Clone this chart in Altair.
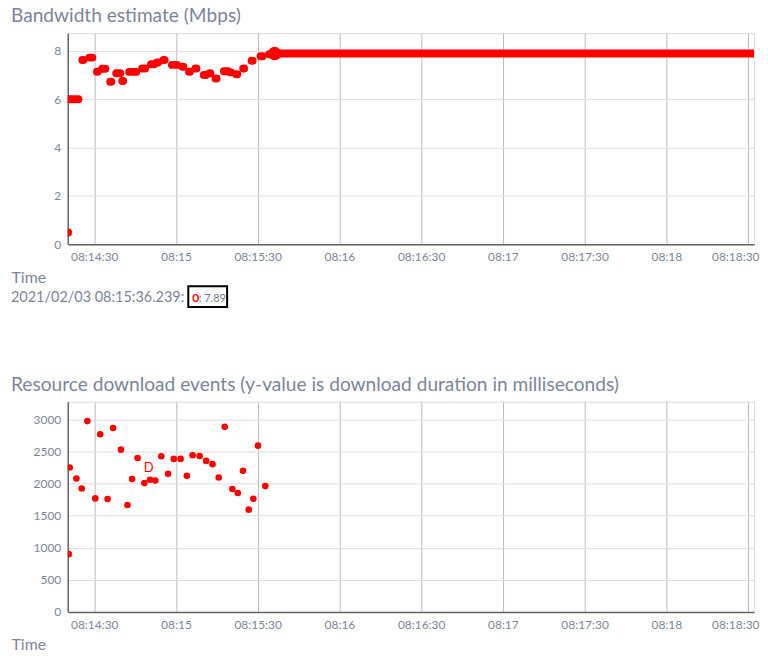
import altair as alt
import pandas as pd

FONT = "Lato"
GRAY = "#7b8699"
RED = "#ff0000"

# ---------------- data ----------------
bw_run_start = [20.28, 20.28, 25.65, 28.21, 31.00, 32.96, 35.88, 38.08, 40.30, 42.83,
                47.58, 50.86, 53.06, 55.45, 58.54, 62.40, 64.80, 67.10, 70.23, 72.30,
                74.50, 77.61, 79.90, 82.10, 84.70, 87.77, 91.06, 94.20, 96.24]
bw_run_end = [20.40, 24.19, 26.02, 29.31, 31.30, 34.06, 36.25, 39.54, 40.60, 45.38,
              48.67, 51.96, 53.42, 55.80, 60.37, 62.70, 65.10, 67.50, 70.96, 72.60,
              74.90, 79.07, 80.20, 82.50, 85.00, 88.14, 91.79, 94.50, 272.19]
bw_run_value = [0.49, 6.00, 7.62, 7.72, 7.14, 7.26, 6.72, 7.07, 6.75, 7.13,
                7.27, 7.45, 7.52, 7.62, 7.42, 7.34, 7.14, 7.27, 7.00, 7.07,
                6.86, 7.16, 7.11, 7.03, 7.27, 7.59, 7.78, 7.86, 7.89]

hover_sec = [96.239]
hover_value = [7.89]
hover_label = ["2021/02/03 08:15:36.239:"]
series_names = ["0"]

dl_sec = [20.65, 21.0, 23.46, 25.4, 27.48, 30.4, 32.2, 34.9, 36.9, 39.8,
          42.2, 43.9, 45.9, 48.4, 50.5, 52.4, 54.6, 57.1, 59.2, 61.7,
          64.0, 66.1, 68.7, 71.1, 73.4, 75.7, 77.9, 80.7, 82.7, 84.6,
          86.7, 88.4, 90.1, 92.8]
dl_ms = [900, 2249, 2078, 1923, 2973, 1768, 2767, 1759, 2865, 2528,
         1666, 2069, 2399, 2007, 2058, 2047, 2426, 2151, 2384, 2384,
         2120, 2441, 2430, 2353, 2302, 2094, 2885, 1914, 1852, 2198,
         1593, 1763, 2590, 1960]

annot_sec = [50.0]
annot_ms = [2180]
annot_text = ["D"]

time_range_start = [20.28]
time_range_end = [272.19]
x_tick_sec = [30, 60, 90, 120, 150, 180, 210, 240, 270]
bw_ticks = [0, 2, 4, 6, 8]
dl_ticks = [0, 500, 1000, 1500, 2000, 2500, 3000]

BASE = pd.Timestamp("2021-02-03T08:14:00", tz="UTC")


def ts(sec):
    t = BASE + pd.Timedelta(milliseconds=int(round(sec * 1000)))
    return t.strftime("%Y-%m-%dT%H:%M:%S.") + f"{t.microsecond // 1000:03d}Z"


def epoch_ms(sec):
    return int(BASE.value // 10**6) + int(round(sec * 1000))


bw_df = pd.DataFrame({
    "start": [ts(s) for s in bw_run_start],
    "end": [ts(s) for s in bw_run_end],
    "value": bw_run_value,
})
hover_df = pd.DataFrame({"time": [ts(s) for s in hover_sec], "value": hover_value})
dl_df = pd.DataFrame({"time": [ts(s) for s in dl_sec], "ms": dl_ms})
annot_df = pd.DataFrame({"time": [ts(s) for s in annot_sec], "ms": annot_ms, "text": annot_text})
range_df = pd.DataFrame({"start": [ts(s) for s in time_range_start],
                         "end": [ts(s) for s in time_range_end]})

W = 689
H1 = 212
H2 = 211

label_expr = ("utcFormat(datum.value, '%S') == '00' ? utcFormat(datum.value, '%H:%M')"
              " : utcFormat(datum.value, '%H:%M:%S')")


def x_axis():
    return alt.Axis(
        title="Time", titleX=-57, titleY=38, titleAlign="left", titleAnchor="start",
        titleBaseline="alphabetic", titleFontSize=16, titleFontWeight="normal",
        titleColor=GRAY, titleFont=FONT,
        values=[epoch_ms(s) for s in x_tick_sec], labelExpr=label_expr,
        labelFlush=8, labelFlushOffset=11, labelPadding=7.5, ticks=False,
        domainColor="#666666", domainWidth=1.5, grid=True, gridColor="#bbbbbb",
        labelColor=GRAY, labelFontSize=12, labelFont=FONT,
    )


def y_axis(values):
    return alt.Axis(
        title=None, values=values, format="d", ticks=False, domainColor="#666666",
        domainWidth=1.5, grid=True, gridColor="#dddddd", labelColor=GRAY,
        labelFontSize=12, labelFont=FONT, labelPadding=7, labelOverlap=False,
    )


def make_title(text):
    return alt.TitleParams(
        text=text, anchor="start", frame="group", dx=-57, dy=20, offset=12,
        baseline="alphabetic", fontSize=19.2, fontWeight="normal", color=GRAY, font=FONT,
    )


def time_extent():
    # invisible span that fixes the time extent of a panel
    return alt.Chart(range_df).mark_rule(opacity=0).encode(
        x=alt.X("start:T", scale=alt.Scale(type="utc", nice=False), axis=x_axis()),
        x2="end:T",
        y=alt.value(0),
    )


bw_y = alt.Y("value:Q", scale=alt.Scale(domain=[0, 8.73], nice=False), axis=y_axis(bw_ticks))
dl_y = alt.Y("ms:Q", scale=alt.Scale(domain=[0, 3275], nice=False), axis=y_axis(dl_ticks))

bw_rules = alt.Chart(bw_df).mark_rule(
    color=RED, strokeWidth=8, strokeCap="round", clip=True
).encode(x="start:T", x2="end:T", y=bw_y)

bw_hover = alt.Chart(hover_df).mark_circle(color=RED, opacity=1, size=180, clip=True).encode(
    x="time:T", y=bw_y
)

date_text = alt.Chart(pd.DataFrame({"label": hover_label})).mark_text(
    align="left", baseline="alphabetic", font=FONT, fontSize=14.5, color=GRAY
).encode(x=alt.value(-57), y=alt.value(270), text="label:N")

legend_box = alt.Chart(pd.DataFrame({"v": hover_value})).mark_rect(
    fill="white", stroke="black", strokeWidth=2
).encode(x=alt.value(121), x2=alt.value(160), y=alt.value(254), y2=alt.value(275))

legend_name = alt.Chart(pd.DataFrame({"name": series_names})).mark_text(
    align="left", baseline="alphabetic", font=FONT, fontSize=12, fontWeight="bold", color=RED
).encode(x=alt.value(125), y=alt.value(270), text="name:N")

legend_value = alt.Chart(pd.DataFrame({"v": hover_value})).mark_text(
    align="left", baseline="alphabetic", font=FONT, fontSize=11, color="#6b7588"
).transform_calculate(
    label="': ' + format(datum.v, '.2f')"
).encode(x=alt.value(131.5), y=alt.value(270), text="label:N")

top = alt.layer(
    time_extent(), bw_rules, bw_hover, date_text, legend_box, legend_name, legend_value
).properties(width=W, height=H1, title=make_title("Bandwidth estimate (Mbps)"))

dl_points = alt.Chart(dl_df).mark_circle(color=RED, opacity=1, size=44, clip=True).encode(
    x="time:T", y=dl_y
)

dl_annot = alt.Chart(annot_df).mark_text(
    color=RED, font=FONT, fontSize=13, baseline="alphabetic", align="center"
).encode(x="time:T", y=dl_y, text="text:N")

bottom = alt.layer(time_extent(), dl_points, dl_annot).properties(
    width=W, height=H2,
    title=make_title("Resource download events (y-value is download duration in milliseconds)"),
)

chart = alt.vconcat(top, bottom, spacing=66).resolve_scale(
    x="independent", y="independent"
).properties(
    padding={"left": 2, "top": -3, "right": 0, "bottom": 0}
).configure_view(strokeWidth=0).configure(font=FONT)

chart.save("out.html", embed_options={"renderer": "svg", "actions": False})
